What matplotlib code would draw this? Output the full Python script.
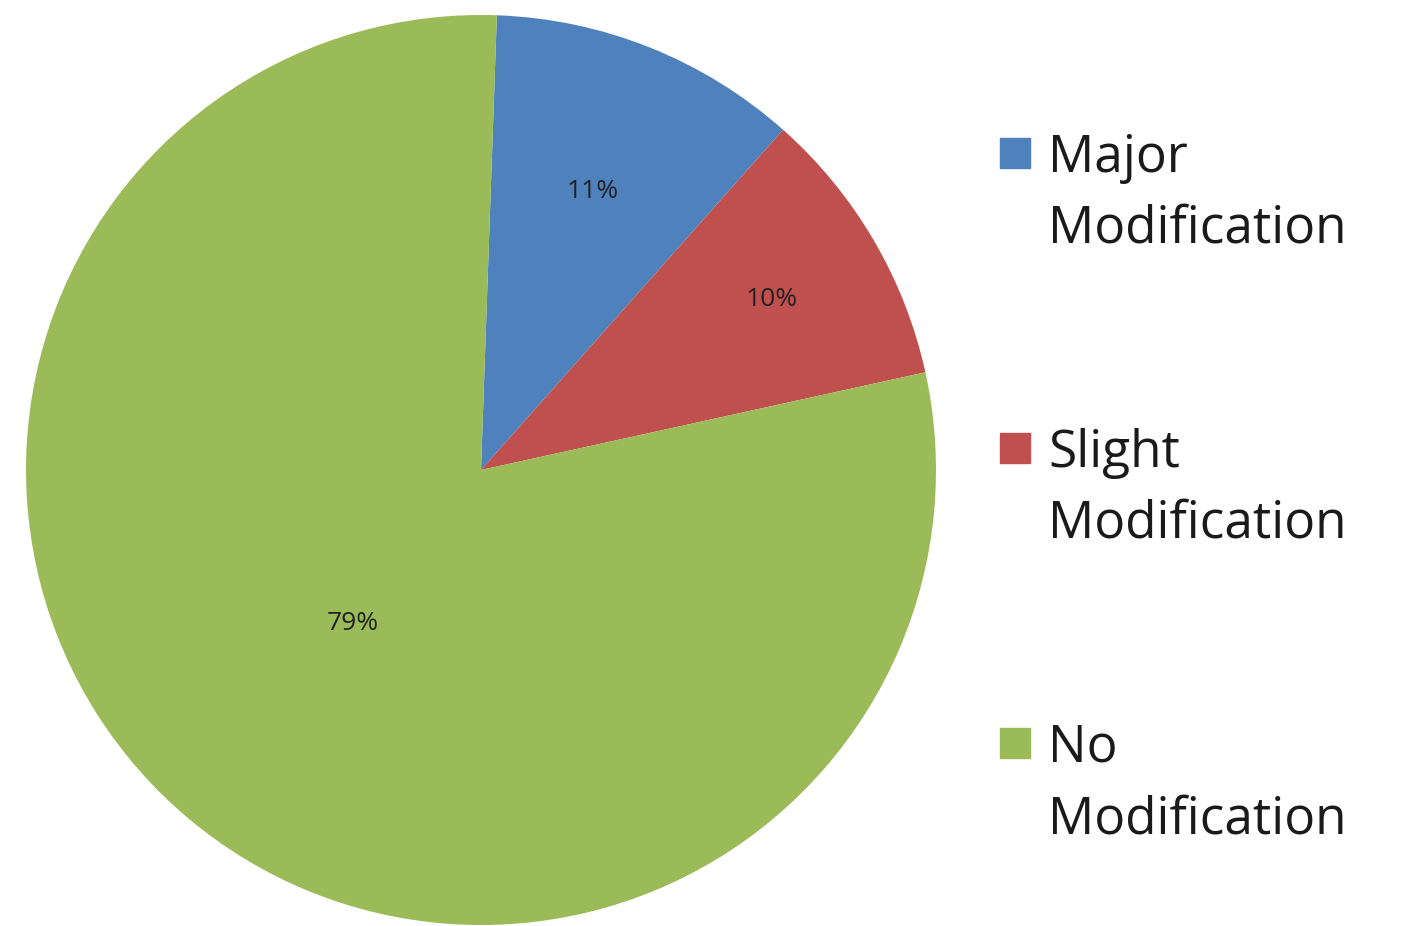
import matplotlib

matplotlib.use("Agg")
import matplotlib.pyplot as plt
import numpy as np
from matplotlib.patches import Rectangle

labels = [("Major", "Modification"), ("Slight", "Modification"), ("No", "Modification")]
values = [11, 10, 79]
colors = ["#4F81BD", "#C0504D", "#9BBB59"]
label_dist = [0.66, 0.74, 0.44]

W, H = 1419, 926
fig = plt.figure(figsize=(W / 100, H / 100), dpi=100)
cx, cy, r = 481, 470, 455
ax = fig.add_axes([(cx - r) / W, (H - cy - r) / H, 2 * r / W, 2 * r / H])
wedges, _ = ax.pie(values, colors=colors, startangle=88, counterclock=False, radius=1)
ax.set_xlim(-1, 1)
ax.set_ylim(-1, 1)
ax.set_aspect("equal")
ax.axis("off")

for w, v, d in zip(wedges, values, label_dist):
    ang = np.deg2rad((w.theta1 + w.theta2) / 2)
    ax.text(d * np.cos(ang), d * np.sin(ang), f"{v}%", ha="center", va="center",
            fontsize=19, family="Open Sans", color="#222222")

# legend, drawn by hand to match the spacing
for i, ((l1, l2), col) in enumerate(zip(labels, colors)):
    base = 172 + 295 * i
    fig.patches.append(Rectangle((1000 / W, 1 - (base - 4) / H), 30 / W, 30 / H,
                                 transform=fig.transFigure, color=col))
    fig.text(1048 / W, 1 - base / H, l1, fontsize=37, family="Open Sans",
             va="baseline", ha="left", color="#1a1a1a")
    fig.text(1048 / W, 1 - (base + 71) / H, l2, fontsize=37, family="Open Sans",
             va="baseline", ha="left", color="#1a1a1a")

fig.savefig("out.png", dpi=100)
